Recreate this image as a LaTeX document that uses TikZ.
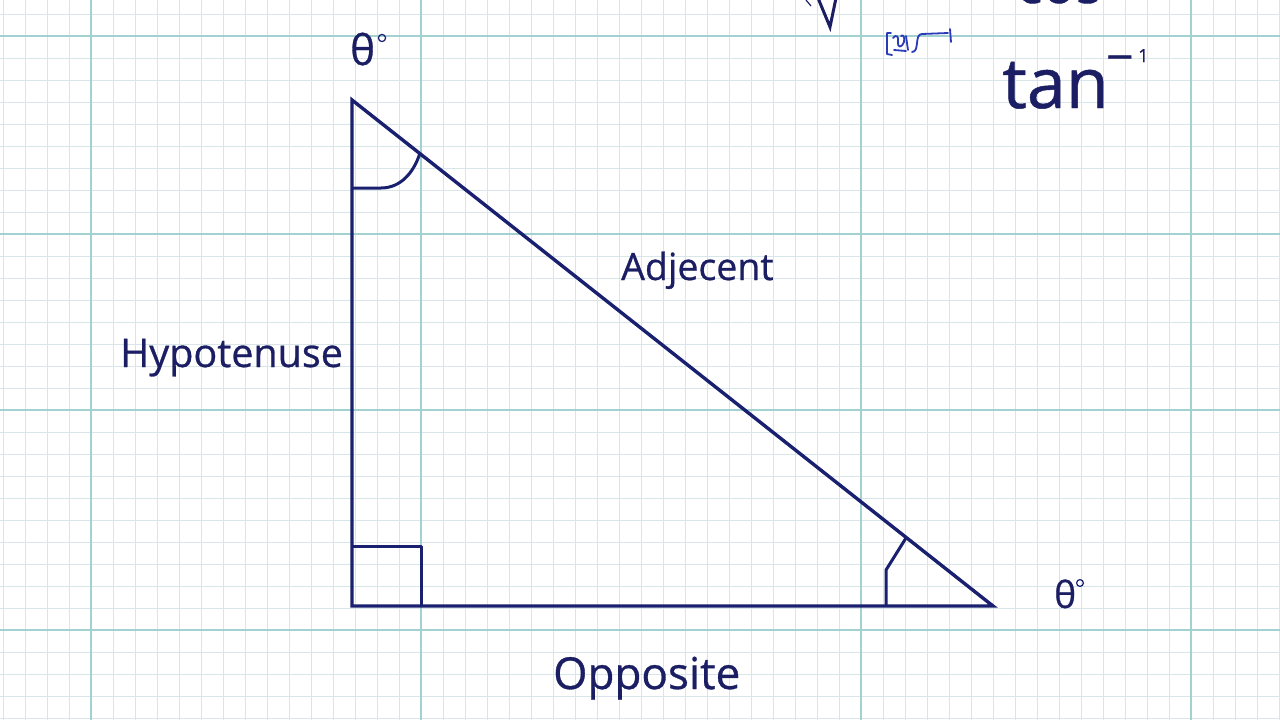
\documentclass[tikz,border=0pt]{standalone}
\usepackage{fontspec}
\setmainfont{Open Sans}
\newfontfamily\medfont[FakeBold=0.7]{Open Sans}
\definecolor{ink}{HTML}{1B1E63}
\definecolor{lineink}{HTML}{1A2070}
\definecolor{gridminor}{HTML}{D8E6EA}
\definecolor{gridmajor}{HTML}{A3D1D2}
\definecolor{scrib}{HTML}{2A3AB8}
\begin{document}
\begin{tikzpicture}[x=1pt,y=-1pt,
  minor/.style={gridminor, line width=1pt},
  major/.style={gridmajor, line width=1.8pt},
  edge/.style={lineink, line width=3.4pt, line join=miter},
  anglemark/.style={lineink, line width=3pt, line join=round},
  lbl/.style={ink, inner sep=0pt, anchor=base west},
  scribble/.style={scrib, line width=1.8pt, line cap=round, line join=round},
]
\useasboundingbox (0,0) rectangle (1280,720);
\fill[white] (0,0) rectangle (1280,720);
\clip (0,0) rectangle (1280,720);
% grid
\foreach \k in {0,...,58} \draw[minor] ({3+22*\k},0) -- ({3+22*\k},720);
\foreach \k in {0,...,32} \draw[minor] (0,{14+22*\k}) -- (1280,{14+22*\k});
\foreach \k in {4,19,39,54} \draw[major] ({3+22*\k},0) -- ({3+22*\k},720);
\foreach \k in {1,10,18,28} \draw[major] (0,{14+22*\k}) -- (1280,{14+22*\k});
% triangle
\coordinate (A) at (352,100);
\coordinate (C) at (352,606);
\coordinate (B) at (993,606);
\draw[edge] (A) -- (C) -- (B) -- cycle;
% right angle box
\coordinate (R1) at (352,546);
\coordinate (R2) at (421,546);
\coordinate (R3) at (421,606);
\draw[anglemark] (R1) -- (R2) -- (R3);
% angle at top
\coordinate (T1) at (352,188);
\coordinate (T2) at (420,153);
\draw[anglemark] (T1) -- (381,188) .. controls (401,188) and (414,172) .. (T2);
% angle at bottom right
\coordinate (S1) at (886,606);
\coordinate (S2) at (906,538);
\draw[anglemark] (S1) -- (886,570) -- (S2);
% labels
\node[lbl, font=\medfont\fontsize{39.5}{40}\selectfont] (hyp) at (120,367) {Hypotenuse};
\node[lbl, font=\medfont\fontsize{37.5}{40}\selectfont] (adj) at (621,280) {Adjecent};
\node[lbl, font=\medfont\fontsize{44}{46}\selectfont] (opp) at (553,689) {Opposite};
\node[lbl, font=\medfont\fontsize{42}{44}\selectfont] (th1) at (350,65) {θ};
\draw[lineink, line width=1.2pt] (382,38) circle (3.6pt);
\node[lbl, font=\medfont\fontsize{37}{40}\selectfont] (th2) at (1054,608) {θ};
\draw[lineink, line width=1.2pt] (1080,583) circle (3.4pt);
% tan^-1
\node[lbl, font=\medfont\fontsize{70}{72}\selectfont] (tan) at (1002,108) {tan};
\node[lbl, font=\medfont\fontsize{48}{48}\selectfont] (minus) at (1106,74) {−};
\node[lbl, font=\medfont\fontsize{18}{18}\selectfont] (one) at (1138,62) {1};
% cut-off text at top
\node[lbl, font=\medfont\fontsize{55}{55}\selectfont] (cos) at (1016,3) {cos};
% cut-off radical
\draw[ink, line width=1.2pt] (806,0) -- (811,6);
\draw[ink, line width=3pt, line join=miter] (818,-2) -- (830,27) -- (836,-2);
% scribble
\draw[scribble] (891,33) -- (887,33) -- (887,54) -- (892,55);
\draw[scribble] (893,38) .. controls (896,34) and (899,36) .. (898,42) .. controls (897,48) and (902,48) .. (904,42)
  .. controls (905,37) and (903,34) .. (901,36);
\draw[scribble] (894,50) -- (906,51);
\draw[scribble] (906,36) -- (908,50);
\draw[scribble] (912,52) .. controls (920,52) and (914,34) .. (922,34);
\draw[scribble] (922,34) -- (948,33);
\draw[scribble] (950,29) -- (951,42);
\end{tikzpicture}
\end{document}
